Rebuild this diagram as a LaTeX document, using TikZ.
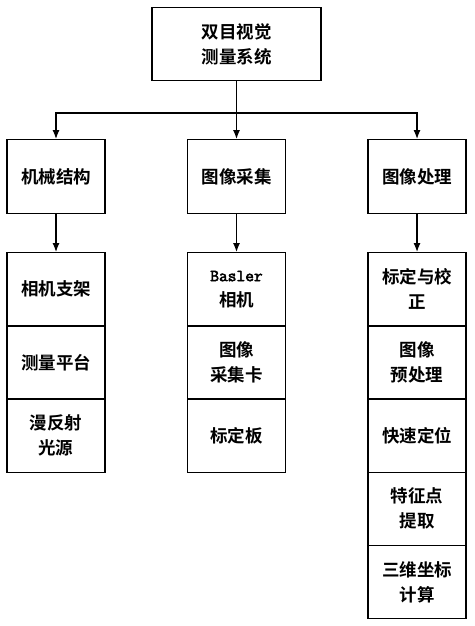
\documentclass[tikz,border=0pt]{standalone}
\usepackage{fontspec}
\newfontfamily\cjk{Noto Sans CJK SC}[BoldFont={* Bold}]
\newfontfamily\basler{Latin Modern Mono}[FakeBold=3]
\usetikzlibrary{arrows.meta}
\begin{document}
\begin{tikzpicture}[x=1pt,y=-1pt,
  box/.style={draw,line width=1.3pt,rectangle,minimum width=98pt,minimum height=73.2pt,inner sep=0pt,align=center,font=\cjk\bfseries\fontsize{17.5}{25}\selectfont,anchor=north},
  arr/.style={line width=1.2pt,-{Latex[length=9pt,width=7pt]}}]
\useasboundingbox (0,0) rectangle (474,626);
\node[box,minimum width=169pt,minimum height=73pt] (top) at (236.5,7) {双目视觉\\测量系统};
\node[box,minimum height=74pt] (a) at (56,139) {机械结构};
\node[box,minimum height=74pt] (b) at (236.5,139) {图像采集};
\node[box,minimum height=74pt] (c) at (417,139) {图像处理};
% left column
\node[box] (a1) at (56,252) {相机支架};
\node[box] (a2) at (56,325.2) {测量平台};
\node[box] (a3) at (56,398.4) {漫反射\\光源};
% middle column
\node[box] (b1) at (236.5,252) {{\basler\fontsize{17}{25}\selectfont Basler}\\相机};
\node[box] (b2) at (236.5,325.2) {图像\\采集卡};
\node[box] (b3) at (236.5,398.4) {标定板};
% right column
\node[box] (c1) at (417,252) {标定与校\\正};
\node[box] (c2) at (417,325.2) {图像\\预处理};
\node[box] (c3) at (417,398.4) {快速定位};
\node[box] (c4) at (417,471.6) {特征点\\提取};
\node[box] (c5) at (417,544.8) {三维坐标\\计算};
% connectors
\coordinate (bar) at (236.5,113);
\draw[arr] (top.south) -- (b.north);
\draw[arr] (bar) -| (a.north);
\draw[arr] (bar) -| (c.north);
\draw[arr] (a.south) -- (a1.north);
\draw[arr] (b.south) -- (b1.north);
\draw[arr] (c.south) -- (c1.north);
\end{tikzpicture}
\end{document}
